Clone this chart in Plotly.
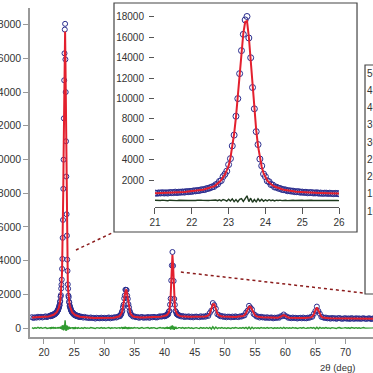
import numpy as np
import plotly.graph_objects as go

# ---------------- data (2theta grid segments, calculated counts, residual obs-calc) -------------
segA_start, segA_step = 18.0, 0.25
segA_calc = [621, 623, 626, 629, 632, 636, 641, 646, 653, 662, 672, 686]
segA_resid = [20, -30, 10, -15, 35, -10, 25, -20, 5, 30, -25, 10]

zoom_start, zoom_step = 21.0, 0.05
zoom_calc = [714, 717, 723, 728, 733, 738, 743, 750, 757, 763,
             772, 780, 789, 798, 809, 820, 833, 847, 861, 878,
             896, 915, 937, 961, 989, 1019, 1053, 1090, 1135, 1185,
             1240, 1310, 1380, 1500, 1630, 1800, 2000, 2250, 2550, 2950,
             3390, 4160, 5200, 6530, 8180, 10140, 12340, 14520, 16400, 17510,
             17600, 16060, 13780, 11260, 8900, 6890, 5320, 4130, 3280, 2680,
             2270, 1960, 1760, 1590, 1463, 1364, 1279, 1209, 1147, 1096,
             1048, 1009, 975, 944, 918, 892, 871, 853, 836, 818,
             809, 796, 784, 771, 762, 752, 743, 736, 727, 720,
             715, 707, 702, 697, 694, 687, 684, 679, 676, 671,
             668]
zoom_resid = [10, -20, 15, -5, 25, -15, 5, -30, 20, 0, -10, 30, -20, 10, -5, 15, -25, 20, -10, 5,
              -15, 25, -5, 10, -20, 15, 0, -25, 20, -10, 5, 15, -15,
              40, -30, 60, -50, 90, 20, -80, 120, -60, 150, -120, 80, -150, 100, 180, -100, 200, 450,
              -120, 220, -180, 90, -140, 160, -70, 110, -90, 60, -40, 70, -30, 40, -50, 20,
              -10, 25, -20, 5, 15, -25, 10, -5, 20, -15, 0, 30, -20, 10, -10, 15, -25, 5, 20, -10,
              -5, 25, -15, 10, -20, 5, 15, -10, 20, -5, -15, 10, 5, -20]

segB1_start, segB1_step = 26.25, 0.25
segB1_calc = [655, 642, 631, 622, 614, 608, 601, 596, 592, 591, 590, 589, 589, 589, 589,
              590, 591, 593, 595, 598, 604, 610, 621, 637, 663]
segB1_resid = [15, -25, 30, -10, 5, -20, 25, -5, 10, -30, 20, 0, -15, 25, -10, 15, -20, 5, 30,
               -25, 10, -5, 20, -15, 5]

segB2_start, segB2_step = 32.5, 0.1
segB2_calc = [695, 722, 762, 820, 908, 1034, 1206, 1431, 1698, 1975, 2202, 2291, 2202, 1975,
              1698, 1431, 1206, 1034, 908, 820, 764]
segB2_resid = [20, -25, 15, -10, 30, -20, 40, -50, 60, -40, 70, -30, 50, -60, 30, -20, 25, -15,
               10, -20, 15]

segB3_start, segB3_step = 34.75, 0.25
segB3_calc = [696, 664, 646, 636, 631, 627, 625, 625, 626, 627, 629, 632, 635, 638, 642, 646,
              651, 657, 664, 675, 689, 710]
segB3_resid = [-15, 25, -5, 20, -25, 10, 30, -20, 5, -10, 25, -30, 15, 0, 20, -15, -25, 10, 30,
               -5, 15, -20]

segB4_start, segB4_step = 40.1, 0.1
segB4_calc = [722, 735, 752, 776, 805, 850, 920, 1050, 1316, 1834, 2700, 3773, 4350, 3773, 2700,
              1834, 1316, 1050, 920, 850, 805, 776, 752, 735]
segB4_resid = [10, -20, 25, -15, 30, -35, 50, -40, 70, -90, 120, -60, 160, -80, 90, -110, 60,
               -40, 30, -25, 15, -10, 20, -5]

segB5_start, segB5_step = 42.5, 0.25
segB5_calc = [719, 699, 685, 676, 671, 667, 665, 662, 661, 661,
              661, 661, 662, 665, 667, 671, 677, 688, 706, 745,
              853, 1091, 1410, 1409, 1093, 854, 746, 706, 688, 677,
              670, 666, 664, 661, 658, 659, 659, 660, 663, 668,
              674, 687, 711, 765, 880, 1071, 1267, 1264, 1064, 869,
              750, 691, 663, 647, 637, 631, 625, 618, 615, 611,
              609, 607, 604, 605, 606, 613, 630, 668, 729, 767,
              727, 663, 622, 604, 598, 595, 593, 590, 589, 589,
              589, 588, 589, 590, 594, 600, 609, 630, 681, 812,
              1049, 1221, 1048, 810, 678, 626, 604, 594, 587, 582,
              578, 576, 573, 572, 570, 569, 567, 567, 565, 565,
              564, 563, 562, 562, 562, 561, 560, 560, 559, 559,
              559, 558, 558, 558, 557, 557, 556, 555, 555, 555,
              555]
segB5_resid = [20, -15, 30, -25, 10, -5, 25, -20, 15, -30, 5, 20, -10, -25, 30, -15, 10, -20, 25,
               -30, 40, -60, 70, -50, 55, -40, 20,
               -10, 25, -20, 15, -30, 10, 5, -25, 20, -15, 30, -5, -20, 15, -10, 25,
               -20, 35, -45, 50, -60, 40, -35, 20,
               -10, 15, -25, 30, -5, 10, -20, 25, -15, 5, 20, -30, 10, -10, 15,
               -20, 25, -30, 35, -25, 20, -15,
               10, -20, 25, -5, 15, -25, 5, 20, -15, 30, -10, -20, 15, -5, 25, -15,
               30, -45, 50, -40, 35,
               -20, 15, -10, 25, -15, 5, -25, 20, -5, 10, -30, 15, 25, -10, -20, 5, 20, -15, 10,
               -25, 30, -5, -15, 20, -10, 15, -20, 5, 25, -10, -15, 10, 20, -25, 5, 15, -5]

main_yticks = list(range(0, 18001, 2000))
main_xticks = list(range(20, 71, 5))
zoom_yticks = list(range(2000, 18001, 2000))
zoom_xticks = [21, 22, 23, 24, 25, 26]
side_yticks = list(range(1000, 5001, 500))


def grid(start, step, n):
    return np.round(start + step * np.arange(n), 3)


segments = [
    (segA_start, segA_step, segA_calc, segA_resid),
    (zoom_start, zoom_step, zoom_calc, zoom_resid),
    (segB1_start, segB1_step, segB1_calc, segB1_resid),
    (segB2_start, segB2_step, segB2_calc, segB2_resid),
    (segB3_start, segB3_step, segB3_calc, segB3_resid),
    (segB4_start, segB4_step, segB4_calc, segB4_resid),
    (segB5_start, segB5_step, segB5_calc, segB5_resid),
]
tt = np.concatenate([grid(s, st, len(c)) for s, st, c, r in segments])
calc = np.concatenate([np.array(c, float) for s, st, c, r in segments])
resid = np.concatenate([np.array(r, float) for s, st, c, r in segments])
obs = calc + resid

z_tt = grid(zoom_start, zoom_step, len(zoom_calc))
z_calc = np.array(zoom_calc, float)
z_resid = np.array(zoom_resid, float)
z_obs = z_calc + z_resid

# ---------------- figure ----------------
FONT = "Liberation Sans, Arial, sans-serif"
OBS_C = "#2a2d8e"
CALC_C = "#e3202e"

fig = go.Figure()
# main panel
fig.add_trace(go.Scatter(x=tt, y=resid, mode="lines", line=dict(color="#2f9a2f", width=1.4),
                         xaxis="x", yaxis="y", hoverinfo="skip"))
fig.add_trace(go.Scatter(x=tt, y=obs, mode="markers",
                         marker=dict(symbol="circle-open", size=5, color=OBS_C, line=dict(width=1)),
                         xaxis="x", yaxis="y", hoverinfo="skip"))
fig.add_trace(go.Scatter(x=tt, y=calc, mode="lines", line=dict(color=CALC_C, width=2),
                         xaxis="x", yaxis="y", hoverinfo="skip"))
# zoom inset
fig.add_trace(go.Scatter(x=z_tt, y=z_resid, mode="lines", line=dict(color="#1f3a1f", width=1.4),
                         xaxis="x2", yaxis="y2", hoverinfo="skip"))
fig.add_trace(go.Scatter(x=z_tt, y=z_obs, mode="markers",
                         marker=dict(symbol="circle-open", size=6, color=OBS_C, line=dict(width=1)),
                         xaxis="x2", yaxis="y2", hoverinfo="skip"))
fig.add_trace(go.Scatter(x=z_tt, y=z_calc, mode="lines", line=dict(color=CALC_C, width=2),
                         xaxis="x2", yaxis="y2", hoverinfo="skip"))
# second inset (only its left edge is visible)
fig.add_trace(go.Scatter(x=[0.5], y=[-9000], mode="markers", marker=dict(opacity=0),
                         xaxis="x3", yaxis="y3", hoverinfo="skip"))

tickfont = dict(family=FONT, size=10, color="#333333")
fig.update_layout(
    width=373, height=373,
    margin=dict(l=30, r=0, t=8, b=36, autoexpand=False),
    paper_bgcolor="white", plot_bgcolor="rgba(0,0,0,0)",
    showlegend=False,
    font=dict(family=FONT, size=10, color="#333333"),
    xaxis=dict(domain=[0, 1], range=[17.68, 74.56], tickvals=main_xticks, ticks="outside",
               ticklen=5, tickcolor="#999999", showline=True, linecolor="#999999", linewidth=1.5,
               showgrid=False, zeroline=False, tickfont=tickfont, automargin=False),
    yaxis=dict(domain=[0, 1], range=[-534, 18990], tickvals=main_yticks, tickformat="d",
               ticks="outside", ticklen=5, tickcolor="#999999", showline=True,
               linecolor="#999999", linewidth=1.5, showgrid=False, zeroline=False,
               tickfont=dict(family=FONT, size=10.5, color="#333333"), automargin=False),
    xaxis2=dict(domain=[0.3644, 0.9009], anchor="y2", range=[21, 26], tickvals=zoom_xticks,
                ticks="outside", ticklen=6, tickcolor="#555555", showline=True,
                linecolor="#555555", linewidth=1, showgrid=False, zeroline=False,
                tickfont=tickfont, automargin=False),
    yaxis2=dict(domain=[0.3951, 1.0], anchor="x2", range=[-648, 18881], tickvals=zoom_yticks,
                tickformat="d", ticks="outside", ticklen=5, tickcolor="#555555", showline=False,
                showgrid=False, zeroline=False, tickfont=tickfont, automargin=False,
                ticklabelstandoff=3),
    xaxis3=dict(domain=[0.974, 1.0], anchor="y3", range=[0, 1], visible=False, automargin=False),
    yaxis3=dict(domain=[0.1307, 0.8267], anchor="x3", range=[-1406, 5232], tickvals=side_yticks,
                tickformat="d", ticks="", ticklabelposition="inside", ticklabeloverflow="allow",
                showline=False, showgrid=False, zeroline=False, tickfont=tickfont,
                automargin=False),
    shapes=[
        dict(type="rect", xref="paper", yref="paper", x0=0.2449, x1=0.9534, y0=0.3191, y1=1.0152,
             line=dict(color="#444444", width=1.2), fillcolor="white", layer="below"),
        dict(type="rect", xref="paper", yref="paper", x0=0.9767, x1=1.2, y0=0.1307, y1=0.8267,
             line=dict(color="#444444", width=1.2), fillcolor="white", layer="below"),
        dict(type="line", xref="x", yref="y", x0=25.3, y0=4630, x1=31.3, y1=5640,
             line=dict(color="#8b1c1c", width=1.5, dash="dot")),
        dict(type="line", xref="x", yref="y", x0=42.7, y0=3320, x1=72.9, y1=2080,
             line=dict(color="#8b1c1c", width=1.5, dash="dot")),
    ],
    annotations=[
        dict(text="2θ (deg)", xref="paper", yref="paper", x=0.953, y=-0.0912,
             xanchor="right", yanchor="middle", showarrow=False,
             font=dict(family=FONT, size=9.5, color="#333333")),
    ],
)

fig.write_html("out.html", config={"displayModeBar": False},
               post_script="document.body.style.margin='0';")
